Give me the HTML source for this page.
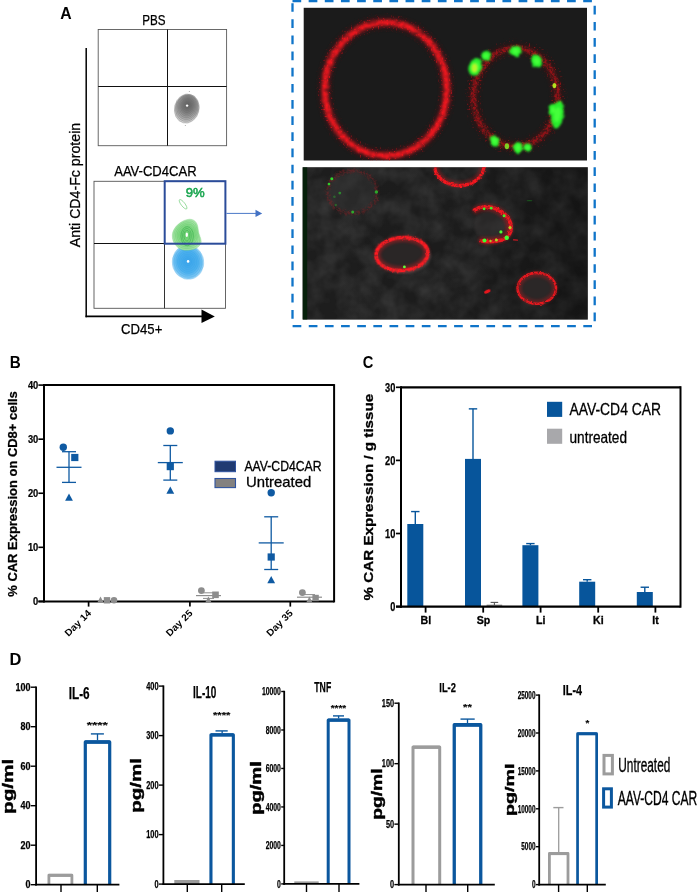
<!DOCTYPE html>
<html lang="en"><head><meta charset="utf-8"><title>Figure</title>
<style>
html,body{margin:0;padding:0;background:#fff;}
body{width:697px;height:892px;overflow:hidden;}
svg{display:block;font-family:'Liberation Sans', sans-serif;}
</style></head><body>
<svg width="697" height="892" viewBox="0 0 697 892">
<defs>
<filter id="fz" x="-20%" y="-20%" width="140%" height="140%">
 <feTurbulence type="fractalNoise" baseFrequency="0.9" numOctaves="2" seed="3" result="n"/>
 <feDisplacementMap in="SourceGraphic" in2="n" scale="3" xChannelSelector="R" yChannelSelector="G" result="d"/>
 <feGaussianBlur in="d" stdDeviation="0.9"/>
</filter>
<filter id="fz2" x="-20%" y="-20%" width="140%" height="140%">
 <feTurbulence type="fractalNoise" baseFrequency="0.8" numOctaves="2" seed="11" result="n"/>
 <feDisplacementMap in="SourceGraphic" in2="n" scale="2" xChannelSelector="R" yChannelSelector="G" result="d"/>
 <feGaussianBlur in="d" stdDeviation="0.7"/>
</filter>
<filter id="grain" x="-20%" y="-20%" width="140%" height="140%" color-interpolation-filters="sRGB">
 <feGaussianBlur in="SourceGraphic" stdDeviation="1.0" result="b"/>
 <feTurbulence type="fractalNoise" baseFrequency="0.28" numOctaves="2" seed="4" result="n"/>
 <feDisplacementMap in="b" in2="n" scale="4" xChannelSelector="R" yChannelSelector="G" result="d"/>
 <feColorMatrix in="n" type="matrix" values="0 0 0 0 0  0 0 0 0 0  0 0 0 0 0  0 0 0 2.2 -0.2" result="na"/>
 <feComposite in="d" in2="na" operator="in" result="sp"/>
 <feGaussianBlur in="sp" stdDeviation="0.8"/>
</filter>
<filter id="grain2" x="-20%" y="-20%" width="140%" height="140%" color-interpolation-filters="sRGB">
 <feGaussianBlur in="SourceGraphic" stdDeviation="0.9" result="b"/>
 <feTurbulence type="fractalNoise" baseFrequency="0.4" numOctaves="2" seed="9" result="n"/>
 <feDisplacementMap in="b" in2="n" scale="5" xChannelSelector="R" yChannelSelector="G" result="d"/>
 <feColorMatrix in="n" type="matrix" values="0 0 0 0 0  0 0 0 0 0  0 0 0 0 0  0 0 0 3.4 -1.0" result="na"/>
 <feComposite in="d" in2="na" operator="in" result="sp"/>
 <feGaussianBlur in="sp" stdDeviation="0.7"/>
</filter>
<filter id="gb1" x="-30%" y="-30%" width="160%" height="160%" color-interpolation-filters="sRGB">
 <feTurbulence type="fractalNoise" baseFrequency="0.25" numOctaves="2" seed="2" result="n"/>
 <feDisplacementMap in="SourceGraphic" in2="n" scale="3" xChannelSelector="R" yChannelSelector="G" result="d"/>
 <feGaussianBlur in="d" stdDeviation="1.0"/>
</filter>
<filter id="grain3" x="-20%" y="-20%" width="140%" height="140%" color-interpolation-filters="sRGB">
 <feGaussianBlur in="SourceGraphic" stdDeviation="0.6" result="b"/>
 <feTurbulence type="fractalNoise" baseFrequency="0.45" numOctaves="2" seed="21" result="n"/>
 <feDisplacementMap in="b" in2="n" scale="2.5" xChannelSelector="R" yChannelSelector="G" result="d"/>
 <feColorMatrix in="n" type="matrix" values="0 0 0 0 0  0 0 0 0 0  0 0 0 0 0  0 0 0 2.0 -0.1" result="na"/>
 <feComposite in="d" in2="na" operator="in" result="sp"/>
 <feGaussianBlur in="sp" stdDeviation="0.75"/>
</filter>
<filter id="b4" x="-30%" y="-30%" width="160%" height="160%"><feGaussianBlur stdDeviation="1.6"/></filter>
<filter id="speck" x="-20%" y="-20%" width="140%" height="140%" color-interpolation-filters="sRGB">
 <feGaussianBlur in="SourceGraphic" stdDeviation="2.2" result="b"/>
 <feTurbulence type="fractalNoise" baseFrequency="0.55" numOctaves="1" seed="17" result="n"/>
 <feColorMatrix in="n" type="matrix" values="0 0 0 0 0  0 0 0 0 0  0 0 0 0 0  7 0 0 0 -4.2" result="na"/>
 <feComposite in="b" in2="na" operator="in" result="sp"/>
 <feGaussianBlur in="sp" stdDeviation="0.55"/>
</filter>
<filter id="b1" x="-30%" y="-30%" width="160%" height="160%"><feGaussianBlur stdDeviation="0.8"/></filter>
<filter id="b2" x="-30%" y="-30%" width="160%" height="160%"><feGaussianBlur stdDeviation="2.5"/></filter>
<filter id="b3" x="-30%" y="-30%" width="160%" height="160%"><feGaussianBlur stdDeviation="0.5"/></filter>
<filter id="dic" x="0" y="0" width="100%" height="100%">
 <feTurbulence type="fractalNoise" baseFrequency="0.05" numOctaves="3" seed="5" result="t"/>
 <feColorMatrix in="t" type="matrix" values="0 0 0 0 0.24  0 0 0 0 0.24  0 0 0 0 0.24  0.8 0 0 0 -0.22"/>
</filter>
<clipPath id="c1"><rect x="303.7" y="7.8" width="283.3" height="152.7"/></clipPath>
<clipPath id="c2"><rect x="302.6" y="167.2" width="285.2" height="152.4"/></clipPath>
<radialGradient id="gg" cx="0.5" cy="0.38" r="0.62"><stop offset="0" stop-color="#5e5e5e"/><stop offset="0.4" stop-color="#7c7c7c"/><stop offset="0.75" stop-color="#a8a8a8"/><stop offset="1" stop-color="#d6d6d6"/></radialGradient>
<radialGradient id="gb" cx="0.5" cy="0.48" r="0.55"><stop offset="0" stop-color="#3aa4ea"/><stop offset="0.6" stop-color="#4eb1ee"/><stop offset="0.9" stop-color="#86caf3"/><stop offset="1" stop-color="#b5def7"/></radialGradient>
<radialGradient id="ggr" cx="0.5" cy="0.5" r="0.55"><stop offset="0" stop-color="#5ccb62"/><stop offset="0.6" stop-color="#83d985"/><stop offset="1" stop-color="#b4e8b4"/></radialGradient>
<linearGradient id="lgd" x1="0" x2="1" y1="0" y2="0"><stop offset="0" stop-color="#000" stop-opacity="0"/><stop offset="0.55" stop-color="#000" stop-opacity="0.05"/><stop offset="1" stop-color="#000" stop-opacity="0.32"/></linearGradient>
</defs>
<text x="60.3" y="19.4" font-size="16.5" font-weight="bold" textLength="11.4" lengthAdjust="spacingAndGlyphs" >A</text>
<text x="142.2" y="25.2" font-size="14" textLength="23.3" lengthAdjust="spacingAndGlyphs" stroke="#000" stroke-width="0.25">PBS</text>
<rect x="98.2" y="29.5" width="128.4" height="116.2" fill="none" stroke="#5a5a5a" stroke-width="0.9" />
<line x1="167.5" y1="29.5" x2="167.5" y2="145.7" stroke="#111" stroke-width="1" />
<line x1="98.2" y1="86.5" x2="226.6" y2="86.5" stroke="#111" stroke-width="1" />
<g transform="rotate(14 186.8 108.5)">
<ellipse cx="186.8" cy="108.6" rx="12.2" ry="14.6" fill="url(#gg)" filter="url(#b3)"/>
<g fill="none" stroke="#666" stroke-width="0.4" opacity="0.7">
<ellipse cx="186.8" cy="108.60" rx="12.20" ry="14.60"/>
<ellipse cx="186.8" cy="108.28" rx="10.98" ry="13.14"/>
<ellipse cx="186.8" cy="107.96" rx="9.76" ry="11.68"/>
<ellipse cx="186.8" cy="107.64" rx="8.54" ry="10.22"/>
<ellipse cx="186.8" cy="107.32" rx="7.32" ry="8.76"/>
<ellipse cx="186.8" cy="107.00" rx="6.10" ry="7.30"/>
<ellipse cx="186.8" cy="106.68" rx="4.88" ry="5.84"/>
<ellipse cx="186.8" cy="106.36" rx="3.66" ry="4.38"/>
<ellipse cx="186.8" cy="106.04" rx="2.44" ry="2.92"/>
</g></g>
<circle cx="187.1" cy="105.6" r="1.2" fill="#fff" filter="url(#b3)"/>
<circle cx="189.3" cy="91.5" r="0.5" fill="#999"/><circle cx="185.3" cy="125.5" r="0.5" fill="#999"/>
<line x1="86.2" y1="48" x2="86.2" y2="317.3" stroke="#000" stroke-width="1.5" />
<line x1="85.5" y1="316.4" x2="203" y2="316.4" stroke="#000" stroke-width="1.6" />
<path d="M201.5 309.6 L214.8 316.4 L201.5 323.0 Z" fill="#000"/>
<text x="80.2" y="247.2" font-size="14" textLength="124.4" lengthAdjust="spacingAndGlyphs" transform="rotate(-90 80.2 247.2)" stroke="#000" stroke-width="0.25">Anti CD4-Fc protein</text>
<text x="121.1" y="334.0" font-size="14.6" textLength="41.2" lengthAdjust="spacingAndGlyphs" stroke="#000" stroke-width="0.25">CD45+</text>
<text x="114.2" y="176.4" font-size="14" textLength="82.4" lengthAdjust="spacingAndGlyphs" stroke="#000" stroke-width="0.25">AAV-CD4CAR</text>
<rect x="94" y="181.3" width="131.5" height="127" fill="none" stroke="#555" stroke-width="0.9" />
<line x1="164.5" y1="181.3" x2="164.5" y2="308.3" stroke="#333" stroke-width="1" />
<line x1="94" y1="243.5" x2="225.5" y2="243.5" stroke="#111" stroke-width="1" />
<ellipse cx="188" cy="262.3" rx="15.6" ry="17" fill="url(#gb)" filter="url(#b3)" transform="rotate(-8 188 262.3)"/>
<g fill="none" stroke="#2f9fe6" stroke-width="0.4" opacity="0.6" transform="rotate(-8 188 262.3)">
<ellipse cx="188" cy="262.30" rx="15.60" ry="17.00"/>
<ellipse cx="188" cy="262.21" rx="13.88" ry="15.13"/>
<ellipse cx="188" cy="262.12" rx="12.17" ry="13.26"/>
<ellipse cx="188" cy="262.04" rx="10.45" ry="11.39"/>
<ellipse cx="188" cy="261.95" rx="8.74" ry="9.52"/>
<ellipse cx="188" cy="261.86" rx="7.02" ry="7.65"/>
<ellipse cx="188" cy="261.77" rx="5.30" ry="5.78"/>
<ellipse cx="188" cy="261.68" rx="3.59" ry="3.91"/>
</g>
<circle cx="188.1" cy="261.4" r="1.3" fill="#fff" filter="url(#b3)"/>
<path d="M172.30 235.00 C172.80 227.00 181.80 219.50 189.80 219.20 C195.80 219.50 197.80 224.00 198.30 230.00 C198.80 235.00 201.30 238.00 201.20 242.00 C199.80 249.00 190.80 250.50 184.80 250.30 C177.80 249.50 171.80 243.00 172.30 235.00 Z" fill="url(#ggr)" filter="url(#b3)" opacity="0.95"/>
<g fill="none" stroke="#55c45c" stroke-width="0.4" opacity="0.7">
<path d="M172.30 235.00 C172.80 227.00 181.80 219.50 189.80 219.20 C195.80 219.50 197.80 224.00 198.30 230.00 C198.80 235.00 201.30 238.00 201.20 242.00 C199.80 249.00 190.80 250.50 184.80 250.30 C177.80 249.50 171.80 243.00 172.30 235.00 Z"/>
<path d="M173.90 234.95 C174.34 227.83 182.35 221.15 189.47 220.88 C194.81 221.15 196.59 225.16 197.04 230.50 C197.48 234.95 199.71 237.62 199.62 241.18 C198.37 247.41 190.36 248.74 185.02 248.56 C178.79 247.85 173.45 242.06 173.90 234.95 Z"/>
<path d="M175.49 234.89 C175.88 228.65 182.90 222.80 189.14 222.57 C193.82 222.80 195.38 226.31 195.77 230.99 C196.16 234.89 198.11 237.23 198.03 240.35 C196.94 245.81 189.92 246.98 185.24 246.82 C179.78 246.20 175.10 241.13 175.49 234.89 Z"/>
<path d="M177.09 234.84 C177.42 229.47 183.45 224.45 188.81 224.25 C192.83 224.45 194.17 227.47 194.51 231.48 C194.84 234.84 196.52 236.84 196.45 239.53 C195.51 244.22 189.48 245.22 185.46 245.09 C180.77 244.55 176.75 240.19 177.09 234.84 Z"/>
<path d="M178.68 234.78 C178.96 230.30 184.00 226.10 188.48 225.93 C191.84 226.10 192.96 228.62 193.24 231.98 C193.52 234.78 194.92 236.46 194.86 238.70 C194.08 242.62 189.04 243.46 185.68 243.35 C181.76 242.90 178.40 239.26 178.68 234.78 Z"/>
<path d="M180.28 234.73 C180.50 231.12 184.55 227.75 188.15 227.62 C190.85 227.75 191.75 229.78 191.98 232.48 C192.20 234.73 193.33 236.08 193.28 237.88 C192.65 241.03 188.60 241.70 185.90 241.61 C182.75 241.25 180.05 238.33 180.28 234.73 Z"/>
</g>
<g fill="none" stroke="#34a84a" stroke-width="0.6" opacity="0.85"><ellipse cx="186.9" cy="236" rx="4.4" ry="7.6"/><ellipse cx="186.9" cy="235.6" rx="2.9" ry="5.4"/><ellipse cx="187.2" cy="236.2" rx="6.2" ry="9.6"/></g>
<ellipse cx="186.8" cy="234.8" rx="1.2" ry="2.2" fill="#fff" filter="url(#b3)"/>
<ellipse cx="183.1" cy="204.3" rx="1.9" ry="5.8" fill="none" stroke="#63c96c" stroke-width="0.6" transform="rotate(-38 183.1 204.3)"/>
<rect x="164.7" y="181.2" width="60.7" height="62.5" fill="none" stroke="#2b4c9a" stroke-width="2" />
<text x="185.8" y="196.7" font-size="13.4" textLength="19" lengthAdjust="spacingAndGlyphs" fill="#1aa650" stroke="#1aa650" stroke-width="0.55">9%</text>
<line x1="226.4" y1="213.4" x2="257" y2="213.4" stroke="#4a78c8" stroke-width="1" />
<path d="M255.5 209.8 L262.2 213.4 L255.5 217 Z" fill="#4472c4"/>
<rect x="292.5" y="1.1" width="302.2" height="324.95" fill="none" stroke="#0f74c9" stroke-width="2.3" stroke-dasharray="8.7 7.45"/>
<rect x="303.7" y="7.8" width="283.3" height="152.7" fill="#1b1b1b" />
<g clip-path="url(#c1)">
<ellipse cx="385.8" cy="89.2" rx="61" ry="66.6" fill="none" stroke="#a01016" stroke-width="9" opacity="0.45" filter="url(#b2)"/>
<ellipse cx="385.8" cy="89.2" rx="61" ry="66.6" fill="none" stroke="#d8141c" stroke-width="13" opacity="0.8" filter="url(#speck)"/>
<ellipse cx="515.6" cy="97.3" rx="42.5" ry="49.5" fill="none" stroke="#c0141a" stroke-width="13" opacity="0.75" filter="url(#speck)"/>
<ellipse cx="385.8" cy="89.2" rx="61" ry="66.6" fill="none" stroke="#ff1820" stroke-width="5.4" filter="url(#grain)"/>
<ellipse cx="515.6" cy="97.3" rx="42" ry="49" fill="none" stroke="#7a0c10" stroke-width="7" opacity="0.45" filter="url(#b2)"/>
<ellipse cx="515.6" cy="97.3" rx="42" ry="49" fill="none" stroke="#a41218" stroke-width="4.4" opacity="0.85" filter="url(#grain2)"/>
<g fill="#28ec2c" filter="url(#gb1)">
<ellipse cx="475.3" cy="66.8" rx="6.6" ry="9" transform="rotate(20 475.3 66.8)"/>
<ellipse cx="486" cy="55.8" rx="4.8" ry="4.8" transform="rotate(0 486 55.8)"/>
<ellipse cx="515.6" cy="50.9" rx="5.8" ry="5.4" transform="rotate(0 515.6 50.9)"/>
<ellipse cx="536.7" cy="61" rx="5.2" ry="6.8" transform="rotate(-25 536.7 61)"/>
<ellipse cx="557.4" cy="114.6" rx="6.2" ry="14" transform="rotate(8 557.4 114.6)"/>
<ellipse cx="553" cy="110" rx="4" ry="6" transform="rotate(0 553 110)"/>
<ellipse cx="494.7" cy="140.8" rx="4.9" ry="5.8" transform="rotate(-15 494.7 140.8)"/>
<ellipse cx="518" cy="147.6" rx="4.4" ry="5.6" transform="rotate(0 518 147.6)"/>
<ellipse cx="527.6" cy="147.6" rx="4" ry="4" transform="rotate(0 527.6 147.6)"/>
</g>
<g fill="#45ff3a" filter="url(#b1)">
<ellipse cx="475.3" cy="66.8" rx="3.6" ry="5.0" transform="rotate(20 475.3 66.8)"/>
<ellipse cx="486" cy="55.8" rx="2.6" ry="2.6" transform="rotate(0 486 55.8)"/>
<ellipse cx="515.6" cy="50.9" rx="3.2" ry="3.0" transform="rotate(0 515.6 50.9)"/>
<ellipse cx="536.7" cy="61" rx="2.9" ry="3.7" transform="rotate(-25 536.7 61)"/>
<ellipse cx="557.4" cy="114.6" rx="3.4" ry="7.7" transform="rotate(8 557.4 114.6)"/>
<ellipse cx="553" cy="110" rx="2.2" ry="3.3" transform="rotate(0 553 110)"/>
<ellipse cx="494.7" cy="140.8" rx="2.7" ry="3.2" transform="rotate(-15 494.7 140.8)"/>
<ellipse cx="518" cy="147.6" rx="2.4" ry="3.1" transform="rotate(0 518 147.6)"/>
<ellipse cx="527.6" cy="147.6" rx="2.2" ry="2.2" transform="rotate(0 527.6 147.6)"/>
</g>
<ellipse cx="474.5" cy="68" rx="3" ry="4.5" fill="#b6f52a" filter="url(#b1)"/>
<ellipse cx="554.4" cy="85.6" rx="2" ry="2.6" fill="#b4e020" filter="url(#b3)"/>
<ellipse cx="506.9" cy="146.2" rx="2.2" ry="3" fill="#7fd020" filter="url(#b3)"/>
</g>
<rect x="302.6" y="167.2" width="285.2" height="152.4" fill="#1d1d1d" />
<g clip-path="url(#c2)">
<rect x="302.6" y="167.2" width="285" height="152.6" fill="#fff" filter="url(#dic)" opacity="0.5"/>
<rect x="302.6" y="167.2" width="285.2" height="152.4" fill="url(#lgd)" />
<rect x="302.6" y="167.2" width="4.6" height="152.6" fill="#06200a" />
<ellipse cx="352.2" cy="192" rx="24" ry="20.5" fill="#363636" opacity="0.5" filter="url(#b1)"/>
<ellipse cx="352.2" cy="192" rx="25" ry="21.3" fill="none" stroke="#7c2226" stroke-width="2.4" opacity="0.8" filter="url(#grain2)"/>
<g fill="#2be02e" filter="url(#b3)">
<circle cx="331.8" cy="178.7" r="1.5" opacity="0.95"/>
<circle cx="329" cy="184.1" r="1.3" opacity="0.9"/>
<circle cx="339.8" cy="193.1" r="1.4" opacity="0.5"/>
<circle cx="334.4" cy="196.8" r="1.3" opacity="0.3"/>
<circle cx="376.4" cy="192" r="1.7" opacity="0.7"/>
<circle cx="352.7" cy="212" r="1.5" opacity="0.7"/>
<circle cx="335.8" cy="205" r="1.2" opacity="0.3"/>
</g>
<ellipse cx="459.3" cy="166" rx="23.400000000000002" ry="18.400000000000002" fill="none" stroke="#f4161e" stroke-width="5.9" opacity="0.3" filter="url(#b4)"/>
<ellipse cx="459.3" cy="166" rx="24.6" ry="19.6" fill="none" stroke="#f4161e" stroke-width="3.4" filter="url(#grain3)"/>
<ellipse cx="404" cy="256" rx="27" ry="17.5" fill="#555" opacity="0.5" filter="url(#b1)"/>
<ellipse cx="402" cy="254" rx="25" ry="15.6" fill="#2a2626"/>
<ellipse cx="402" cy="254" rx="24.8" ry="15.3" fill="none" stroke="#ff1a22" stroke-width="6.1" opacity="0.35" filter="url(#b4)" transform="rotate(-4 402 254)"/>
<ellipse cx="402" cy="254" rx="26" ry="16.5" fill="none" stroke="#ff1a22" stroke-width="3.6" filter="url(#grain3)" transform="rotate(-4 402 254)"/>
<circle cx="404.4" cy="266.9" r="1.4" fill="#5cff3a" filter="url(#b3)"/>
<ellipse cx="490" cy="225" rx="16" ry="15" fill="#383434" opacity="0.5" filter="url(#b1)"/>
<path d="M476 210 C481 207 488 206.5 494 208.5 C502 211.5 508.5 218 509.5 226 C510 232 507 237 501 239 C495 241 488 241.4 482 240.6" fill="none" stroke="#c0161c" stroke-width="7" stroke-linecap="round" opacity="0.5" filter="url(#b4)"/>
<path d="M474.5 210 C480 206.5 488 206 494 208 C503 211 510 218 511 226 C511.5 233 508 238 502 240 C495 242 487 242 481 241" fill="none" stroke="#ee1820" stroke-width="3.8" stroke-linecap="round" filter="url(#grain3)"/>
<path d="M513 239.6 L518 240.2" stroke="#a01820" stroke-width="1.6" filter="url(#b3)"/>
<g fill="#3df02e" filter="url(#b3)">
<circle cx="484.1" cy="208.8" r="1.4" fill="#3df02e"/>
<circle cx="491.2" cy="208.2" r="1.4" fill="#3df02e"/>
<circle cx="504.1" cy="215.7" r="1.5" fill="#3df02e"/>
<circle cx="510" cy="227.6" r="1.6" fill="#c0c828"/>
<circle cx="500.9" cy="231.9" r="1.6" fill="#4dff30"/>
<circle cx="506.7" cy="237.7" r="2.2" fill="#3dff30"/>
<circle cx="484.5" cy="240.5" r="2" fill="#3dff30"/>
<circle cx="496.4" cy="240" r="1.5" fill="#a8d828"/>
<circle cx="490.5" cy="241" r="1.2" fill="#a8c828"/>
</g>
<ellipse cx="536.8" cy="288.3" rx="18" ry="14.5" fill="#2b2727"/>
<ellipse cx="536.8" cy="288.3" rx="18.0" ry="14.200000000000001" fill="none" stroke="#e8181f" stroke-width="5.1" opacity="0.3" filter="url(#b4)"/>
<ellipse cx="536.8" cy="288.3" rx="19.2" ry="15.4" fill="none" stroke="#e8181f" stroke-width="2.6" filter="url(#grain3)"/>
<ellipse cx="487.3" cy="291.5" rx="3.4" ry="1.7" fill="#e8161e" filter="url(#b3)" transform="rotate(-25 487.3 291.5)"/>
<ellipse cx="529.5" cy="200.7" rx="3" ry="0.6" fill="#1c7a22" opacity="0.6"/>
</g>
<text x="9.7" y="368.2" font-size="16.5" font-weight="bold" textLength="11" lengthAdjust="spacingAndGlyphs" >B</text>
<line x1="44.0" y1="384.1" x2="44.0" y2="602.4" stroke="#000" stroke-width="2" />
<line x1="44.0" y1="385.1" x2="334.1" y2="385.1" stroke="#000" stroke-width="2" />
<line x1="334.1" y1="384.1" x2="334.1" y2="602.4" stroke="#000" stroke-width="2" />
<line x1="38.4" y1="601.4" x2="334.1" y2="601.4" stroke="#000" stroke-width="2" />
<line x1="38.4" y1="601.4" x2="44.0" y2="601.4" stroke="#000" stroke-width="1.6" />
<text x="38.3" y="605.2" font-size="10.4" font-weight="bold" textLength="5.2" lengthAdjust="spacingAndGlyphs" text-anchor="end" stroke="#000" stroke-width="0.2">0</text>
<line x1="38.4" y1="547.325" x2="44.0" y2="547.325" stroke="#000" stroke-width="1.6" />
<text x="38.3" y="551.1" font-size="10.4" font-weight="bold" textLength="10.4" lengthAdjust="spacingAndGlyphs" text-anchor="end" stroke="#000" stroke-width="0.2">10</text>
<line x1="38.4" y1="493.25" x2="44.0" y2="493.25" stroke="#000" stroke-width="1.6" />
<text x="38.3" y="497.1" font-size="10.4" font-weight="bold" textLength="10.4" lengthAdjust="spacingAndGlyphs" text-anchor="end" stroke="#000" stroke-width="0.2">20</text>
<line x1="38.4" y1="439.175" x2="44.0" y2="439.175" stroke="#000" stroke-width="1.6" />
<text x="38.3" y="443.0" font-size="10.4" font-weight="bold" textLength="10.4" lengthAdjust="spacingAndGlyphs" text-anchor="end" stroke="#000" stroke-width="0.2">30</text>
<line x1="38.4" y1="385.1" x2="44.0" y2="385.1" stroke="#000" stroke-width="1.6" />
<text x="38.3" y="388.9" font-size="10.4" font-weight="bold" textLength="10.4" lengthAdjust="spacingAndGlyphs" text-anchor="end" stroke="#000" stroke-width="0.2">40</text>
<line x1="88.6" y1="601.4" x2="88.6" y2="606.6" stroke="#000" stroke-width="1.7" />
<line x1="189.9" y1="601.4" x2="189.9" y2="606.6" stroke="#000" stroke-width="1.7" />
<line x1="290.3" y1="601.4" x2="290.3" y2="606.6" stroke="#000" stroke-width="1.7" />
<text font-size="9.6" font-weight="bold" text-anchor="end" textLength="33" lengthAdjust="spacingAndGlyphs" transform="translate(91.89999999999999 613.6) rotate(-45)">Day 14</text>
<text font-size="9.6" font-weight="bold" text-anchor="end" textLength="33" lengthAdjust="spacingAndGlyphs" transform="translate(193.20000000000002 613.6) rotate(-45)">Day 25</text>
<text font-size="9.6" font-weight="bold" text-anchor="end" textLength="33" lengthAdjust="spacingAndGlyphs" transform="translate(293.6 613.6) rotate(-45)">Day 35</text>
<text x="16.7" y="596.7" font-size="12.8" font-weight="bold" textLength="205.5" lengthAdjust="spacingAndGlyphs" transform="rotate(-90 16.7 596.7)" stroke="#000" stroke-width="0.25">% CAR Expression on CD8+ cells</text>
<line x1="69" y1="451.7" x2="69" y2="482.4" stroke="#0f5aa2" stroke-width="1.3" />
<line x1="56.5" y1="467.3" x2="81.5" y2="467.3" stroke="#0f5aa2" stroke-width="1.3" />
<line x1="62" y1="451.7" x2="76" y2="451.7" stroke="#0f5aa2" stroke-width="1.3" />
<line x1="62" y1="482.4" x2="76" y2="482.4" stroke="#0f5aa2" stroke-width="1.3" />
<circle cx="63.3" cy="447.2" r="3.7" fill="#0f5aa2"/>
<rect x="71.2" y="453.9" width="7.2" height="7.2" fill="#0f5aa2"/>
<path d="M69 493.6 L72.9 500.815 L65.1 500.815 Z" fill="#0f5aa2"/>
<line x1="170.3" y1="445.5" x2="170.3" y2="480.1" stroke="#0f5aa2" stroke-width="1.3" />
<line x1="157.8" y1="462.6" x2="182.8" y2="462.6" stroke="#0f5aa2" stroke-width="1.3" />
<line x1="163.3" y1="445.5" x2="177.3" y2="445.5" stroke="#0f5aa2" stroke-width="1.3" />
<line x1="163.3" y1="480.1" x2="177.3" y2="480.1" stroke="#0f5aa2" stroke-width="1.3" />
<circle cx="170.3" cy="430.9" r="3.7" fill="#0f5aa2"/>
<rect x="166.70000000000002" y="463.0" width="7.2" height="7.2" fill="#0f5aa2"/>
<path d="M170.3 486.6 L174.20000000000002 493.815 L166.4 493.815 Z" fill="#0f5aa2"/>
<line x1="271.2" y1="516.8" x2="271.2" y2="569.5" stroke="#0f5aa2" stroke-width="1.3" />
<line x1="258.7" y1="542.9" x2="283.7" y2="542.9" stroke="#0f5aa2" stroke-width="1.3" />
<line x1="264.2" y1="516.8" x2="278.2" y2="516.8" stroke="#0f5aa2" stroke-width="1.3" />
<line x1="264.2" y1="569.5" x2="278.2" y2="569.5" stroke="#0f5aa2" stroke-width="1.3" />
<circle cx="271.2" cy="492.7" r="3.7" fill="#0f5aa2"/>
<rect x="267.59999999999997" y="553.4" width="7.2" height="7.2" fill="#0f5aa2"/>
<path d="M271.2 576.1 L275.09999999999997 583.315 L267.3 583.315 Z" fill="#0f5aa2"/>
<path d="M100.5 596.6 L103.9 602.89 L97.1 602.89 Z" fill="#8d8d8d"/>
<rect x="103.8" y="597.0999999999999" width="6.4" height="6.4" fill="#8d8d8d"/>
<circle cx="114" cy="600.3" r="3.3" fill="#8d8d8d"/>
<line x1="196" y1="595.6" x2="221" y2="595.6" stroke="#8d8d8d" stroke-width="1.2" />
<line x1="203" y1="592.8" x2="214" y2="592.8" stroke="#8d8d8d" stroke-width="1" />
<line x1="203" y1="598.4" x2="214" y2="598.4" stroke="#8d8d8d" stroke-width="1" />
<circle cx="201.4" cy="590.6" r="3.4" fill="#8d8d8d"/>
<rect x="212.2" y="591.5" width="6.6" height="6.6" fill="#8d8d8d"/>
<path d="M208.4 596.6 L211.8 602.89 L205.0 602.89 Z" fill="#8d8d8d"/>
<line x1="297" y1="597.2" x2="322" y2="597.2" stroke="#8d8d8d" stroke-width="1.2" />
<line x1="304" y1="594.6" x2="315" y2="594.6" stroke="#8d8d8d" stroke-width="1" />
<circle cx="302.4" cy="592.6" r="3.4" fill="#8d8d8d"/>
<path d="M309.4 596.6 L312.79999999999995 602.89 L306.0 602.89 Z" fill="#8d8d8d"/>
<rect x="312.40000000000003" y="594.8" width="6.4" height="6.4" fill="#8d8d8d"/>
<rect x="215" y="461.2" width="20.5" height="10.5" fill="#203b72" stroke="#2f539f" stroke-width="1" />
<rect x="215" y="478.5" width="20.5" height="9.1" fill="#838180" stroke="#2f539f" stroke-width="1.1" />
<text x="244.4" y="470.8" font-size="14.2" textLength="77.2" lengthAdjust="spacingAndGlyphs" stroke="#000" stroke-width="0.3">AAV-CD4CAR</text>
<text x="246" y="487.4" font-size="14.8" textLength="65.2" lengthAdjust="spacingAndGlyphs" stroke="#000" stroke-width="0.3">Untreated</text>
<text x="362.7" y="368.2" font-size="16.5" font-weight="bold" textLength="10.6" lengthAdjust="spacingAndGlyphs" >C</text>
<line x1="415.3" y1="511.57000000000005" x2="415.3" y2="523.9970000000001" stroke="#07559b" stroke-width="1.4" />
<line x1="411.1" y1="511.57000000000005" x2="419.5" y2="511.57000000000005" stroke="#07559b" stroke-width="1.4" />
<rect x="407.3" y="524.0" width="16" height="82.6" fill="#07559b" />
<line x1="473" y1="408.8645" x2="473" y2="458.93800000000005" stroke="#07559b" stroke-width="1.4" />
<line x1="468.8" y1="408.8645" x2="477.2" y2="408.8645" stroke="#07559b" stroke-width="1.4" />
<rect x="465" y="458.9" width="16" height="147.7" fill="#07559b" />
<line x1="530.4" y1="543.5878" x2="530.4" y2="545.196" stroke="#07559b" stroke-width="1.4" />
<line x1="526.1999999999999" y1="543.5878" x2="534.6" y2="543.5878" stroke="#07559b" stroke-width="1.4" />
<rect x="522.4" y="545.2" width="16" height="61.4" fill="#07559b" />
<line x1="587.2" y1="579.6992" x2="587.2" y2="581.746" stroke="#07559b" stroke-width="1.4" />
<line x1="583.0" y1="579.6992" x2="591.4000000000001" y2="579.6992" stroke="#07559b" stroke-width="1.4" />
<rect x="579.2" y="581.7" width="16" height="24.9" fill="#07559b" />
<line x1="644.8" y1="587.2285" x2="644.8" y2="591.98" stroke="#07559b" stroke-width="1.4" />
<line x1="640.5999999999999" y1="587.2285" x2="649.0" y2="587.2285" stroke="#07559b" stroke-width="1.4" />
<rect x="636.8" y="592.0" width="16" height="14.6" fill="#07559b" />
<rect x="486.6" y="604.6" width="15.6" height="1.6" fill="#9a9a9a" />
<line x1="494.4" y1="602.4" x2="494.4" y2="605" stroke="#555" stroke-width="1.1" />
<line x1="490.6" y1="602.4" x2="498.2" y2="602.4" stroke="#555" stroke-width="1.1" />
<line x1="401" y1="386.2" x2="401" y2="607.7" stroke="#000" stroke-width="2" />
<line x1="401" y1="387.3" x2="680.5" y2="387.3" stroke="#000" stroke-width="2.2" />
<line x1="680.5" y1="386.2" x2="680.5" y2="607.7" stroke="#000" stroke-width="2" />
<line x1="396" y1="606.6" x2="680.5" y2="606.6" stroke="#000" stroke-width="2.2" />
<line x1="396" y1="606.6" x2="401" y2="606.6" stroke="#000" stroke-width="1.7" />
<text x="395.4" y="610.9" font-size="12.2" font-weight="bold" textLength="5.1" lengthAdjust="spacingAndGlyphs" text-anchor="end" stroke="#000" stroke-width="0.25">0</text>
<line x1="396" y1="533.5" x2="401" y2="533.5" stroke="#000" stroke-width="1.7" />
<text x="395.4" y="537.8" font-size="12.2" font-weight="bold" textLength="10.3" lengthAdjust="spacingAndGlyphs" text-anchor="end" stroke="#000" stroke-width="0.25">10</text>
<line x1="396" y1="460.40000000000003" x2="401" y2="460.40000000000003" stroke="#000" stroke-width="1.7" />
<text x="395.4" y="464.7" font-size="12.2" font-weight="bold" textLength="10.3" lengthAdjust="spacingAndGlyphs" text-anchor="end" stroke="#000" stroke-width="0.25">20</text>
<line x1="396" y1="387.3" x2="401" y2="387.3" stroke="#000" stroke-width="1.7" />
<text x="395.4" y="391.6" font-size="12.2" font-weight="bold" textLength="10.3" lengthAdjust="spacingAndGlyphs" text-anchor="end" stroke="#000" stroke-width="0.25">30</text>
<line x1="425.6" y1="606.6" x2="425.6" y2="612.6" stroke="#000" stroke-width="1.8" />
<text x="425.8" y="623.9" font-size="10.6" font-weight="bold" text-anchor="middle" stroke="#000" stroke-width="0.3">Bl</text>
<line x1="483.2" y1="606.6" x2="483.2" y2="612.6" stroke="#000" stroke-width="1.8" />
<text x="483.4" y="623.9" font-size="10.6" font-weight="bold" text-anchor="middle" stroke="#000" stroke-width="0.3">Sp</text>
<line x1="540.6" y1="606.6" x2="540.6" y2="612.6" stroke="#000" stroke-width="1.8" />
<text x="540.8000000000001" y="623.9" font-size="10.6" font-weight="bold" text-anchor="middle" stroke="#000" stroke-width="0.3">Li</text>
<line x1="598.2" y1="606.6" x2="598.2" y2="612.6" stroke="#000" stroke-width="1.8" />
<text x="598.4000000000001" y="623.9" font-size="10.6" font-weight="bold" text-anchor="middle" stroke="#000" stroke-width="0.3">Ki</text>
<line x1="655.4" y1="606.6" x2="655.4" y2="612.6" stroke="#000" stroke-width="1.8" />
<text x="655.6" y="623.9" font-size="10.6" font-weight="bold" text-anchor="middle" stroke="#000" stroke-width="0.3">It</text>
<text x="373.4" y="600.4" font-size="13" font-weight="bold" textLength="206.6" lengthAdjust="spacingAndGlyphs" transform="rotate(-90 373.4 600.4)" stroke="#000" stroke-width="0.3">% CAR Expression / g tissue</text>
<rect x="547" y="401.8" width="15.2" height="15.1" fill="#07559b" />
<rect x="547" y="428.7" width="15.2" height="15.1" fill="#a8a8ab" />
<text x="569.5" y="414.9" font-size="16.5" textLength="91.5" lengthAdjust="spacingAndGlyphs" stroke="#000" stroke-width="0.3">AAV-CD4 CAR</text>
<text x="569.5" y="442.6" font-size="16.5" textLength="57.5" lengthAdjust="spacingAndGlyphs" stroke="#000" stroke-width="0.3">untreated</text>
<text x="9.4" y="665" font-size="16.5" font-weight="bold" textLength="11.9" lengthAdjust="spacingAndGlyphs" >D</text>
<text x="13.0" y="814" font-size="14.5" font-weight="bold" textLength="55.2" lengthAdjust="spacingAndGlyphs" transform="rotate(-90 13.0 814)" stroke="#000" stroke-width="0.4">pg/ml</text>
<path d="M48.90 884.7 V875.20 H71.90 V884.7" fill="#fff" stroke="#9c9c9c" stroke-width="2.8" stroke-linejoin="round"/>
<line x1="48.9" y1="875.4" x2="71.89999999999999" y2="875.4" stroke="#9c9c9c" stroke-width="3.0" />
<line x1="97.5" y1="733.9" x2="97.5" y2="740.3" stroke="#0b579e" stroke-width="1.3" />
<line x1="90.9" y1="733.9" x2="103.9" y2="733.9" stroke="#0b579e" stroke-width="1.4" />
<path d="M85.30 884.7 V741.90 H109.70 V884.7" fill="#fff" stroke="#0b579e" stroke-width="3.2" stroke-linejoin="round"/>
<line x1="85.3" y1="742.1" x2="109.7" y2="742.1" stroke="#0b579e" stroke-width="3.4000000000000004" />
<line x1="36.1" y1="686.5" x2="36.1" y2="885.6" stroke="#000" stroke-width="1.8" />
<line x1="35.2" y1="884.7" x2="119.4" y2="884.7" stroke="#000" stroke-width="1.8" />
<line x1="30.700000000000003" y1="884.7" x2="36.1" y2="884.7" stroke="#000" stroke-width="1.4" />
<text x="30.4" y="888.4" font-size="10.4" font-weight="bold" textLength="5.0" lengthAdjust="spacingAndGlyphs" text-anchor="end" stroke="#000" stroke-width="0.25">0</text>
<line x1="30.700000000000003" y1="845.2" x2="36.1" y2="845.2" stroke="#000" stroke-width="1.4" />
<text x="30.4" y="848.9" font-size="10.4" font-weight="bold" textLength="10.0" lengthAdjust="spacingAndGlyphs" text-anchor="end" stroke="#000" stroke-width="0.25">20</text>
<line x1="30.700000000000003" y1="805.7" x2="36.1" y2="805.7" stroke="#000" stroke-width="1.4" />
<text x="30.4" y="809.4" font-size="10.4" font-weight="bold" textLength="10.0" lengthAdjust="spacingAndGlyphs" text-anchor="end" stroke="#000" stroke-width="0.25">40</text>
<line x1="30.700000000000003" y1="766.2" x2="36.1" y2="766.2" stroke="#000" stroke-width="1.4" />
<text x="30.4" y="769.9" font-size="10.4" font-weight="bold" textLength="10.0" lengthAdjust="spacingAndGlyphs" text-anchor="end" stroke="#000" stroke-width="0.25">60</text>
<line x1="30.700000000000003" y1="726.7" x2="36.1" y2="726.7" stroke="#000" stroke-width="1.4" />
<text x="30.4" y="730.4" font-size="10.4" font-weight="bold" textLength="10.0" lengthAdjust="spacingAndGlyphs" text-anchor="end" stroke="#000" stroke-width="0.25">80</text>
<line x1="30.700000000000003" y1="687.2" x2="36.1" y2="687.2" stroke="#000" stroke-width="1.4" />
<text x="30.4" y="690.9" font-size="10.4" font-weight="bold" textLength="15.0" lengthAdjust="spacingAndGlyphs" text-anchor="end" stroke="#000" stroke-width="0.25">100</text>
<line x1="61" y1="884.7" x2="61" y2="892" stroke="#000" stroke-width="1.4" />
<line x1="97.3" y1="884.7" x2="97.3" y2="892" stroke="#000" stroke-width="1.4" />
<text x="68.7" y="698.9" font-size="15.6" font-weight="bold" textLength="20.9" lengthAdjust="spacingAndGlyphs" stroke="#000" stroke-width="0.25">IL-6</text>
<text x="97.3" y="727.9" font-size="9.5" font-weight="bold" textLength="21.2" lengthAdjust="spacingAndGlyphs" text-anchor="middle" stroke="#000" stroke-width="0.15">****</text>
<text x="141.4" y="812.8" font-size="14.5" font-weight="bold" textLength="54.8" lengthAdjust="spacingAndGlyphs" transform="rotate(-90 141.4 812.8)" stroke="#000" stroke-width="0.4">pg/ml</text>
<rect x="174.3" y="880" width="25.2" height="4.1" fill="#9c9c9c" />
<line x1="222.15" y1="730.9" x2="222.15" y2="733.2" stroke="#0b579e" stroke-width="1.3" />
<line x1="215.5" y1="730.9" x2="227.7" y2="730.9" stroke="#0b579e" stroke-width="1.4" />
<path d="M210.95 884.1 V734.75 H233.35 V884.1" fill="#fff" stroke="#0b579e" stroke-width="3.1" stroke-linejoin="round"/>
<line x1="210.95000000000002" y1="734.95" x2="233.35" y2="734.95" stroke="#0b579e" stroke-width="3.3000000000000003" />
<line x1="163.4" y1="685.4" x2="163.4" y2="885.0" stroke="#000" stroke-width="1.8" />
<line x1="162.5" y1="884.1" x2="244.8" y2="884.1" stroke="#000" stroke-width="1.8" />
<line x1="158.8" y1="884.1" x2="163.4" y2="884.1" stroke="#000" stroke-width="1.4" />
<text x="158.5" y="887.8" font-size="10.4" font-weight="bold" textLength="4.1" lengthAdjust="spacingAndGlyphs" text-anchor="end" stroke="#000" stroke-width="0.25">0</text>
<line x1="158.8" y1="834.6" x2="163.4" y2="834.6" stroke="#000" stroke-width="1.4" />
<text x="158.5" y="838.3" font-size="10.4" font-weight="bold" textLength="12.3" lengthAdjust="spacingAndGlyphs" text-anchor="end" stroke="#000" stroke-width="0.25">100</text>
<line x1="158.8" y1="785.1" x2="163.4" y2="785.1" stroke="#000" stroke-width="1.4" />
<text x="158.5" y="788.8" font-size="10.4" font-weight="bold" textLength="12.3" lengthAdjust="spacingAndGlyphs" text-anchor="end" stroke="#000" stroke-width="0.25">200</text>
<line x1="158.8" y1="735.6" x2="163.4" y2="735.6" stroke="#000" stroke-width="1.4" />
<text x="158.5" y="739.3" font-size="10.4" font-weight="bold" textLength="12.3" lengthAdjust="spacingAndGlyphs" text-anchor="end" stroke="#000" stroke-width="0.25">300</text>
<line x1="158.8" y1="686.1" x2="163.4" y2="686.1" stroke="#000" stroke-width="1.4" />
<text x="158.5" y="689.8" font-size="10.4" font-weight="bold" textLength="12.3" lengthAdjust="spacingAndGlyphs" text-anchor="end" stroke="#000" stroke-width="0.25">400</text>
<line x1="187.3" y1="884.1" x2="187.3" y2="892" stroke="#000" stroke-width="1.4" />
<line x1="221.7" y1="884.1" x2="221.7" y2="892" stroke="#000" stroke-width="1.4" />
<text x="193.1" y="697.6" font-size="15.6" font-weight="bold" textLength="23.3" lengthAdjust="spacingAndGlyphs" stroke="#000" stroke-width="0.25">IL-10</text>
<text x="221.7" y="718.3" font-size="9.5" font-weight="bold" textLength="17.4" lengthAdjust="spacingAndGlyphs" text-anchor="middle" stroke="#000" stroke-width="0.15">****</text>
<text x="260.9" y="814.7" font-size="13.8" font-weight="bold" textLength="53.5" lengthAdjust="spacingAndGlyphs" transform="rotate(-90 260.9 814.7)" stroke="#000" stroke-width="0.4">pg/ml</text>
<rect x="294.3" y="881.4" width="24.4" height="2.5" fill="#9c9c9c" />
<line x1="338.6" y1="715.9" x2="338.6" y2="718.5" stroke="#0b579e" stroke-width="1.3" />
<line x1="333" y1="715.9" x2="344" y2="715.9" stroke="#0b579e" stroke-width="1.4" />
<path d="M328.20 883.9 V720.00 H349.00 V883.9" fill="#fff" stroke="#0b579e" stroke-width="3.0" stroke-linejoin="round"/>
<line x1="328.2" y1="720.2" x2="349.0" y2="720.2" stroke="#0b579e" stroke-width="3.2" />
<line x1="284.2" y1="690.8" x2="284.2" y2="884.8" stroke="#000" stroke-width="1.8" />
<line x1="283.3" y1="883.9" x2="359.4" y2="883.9" stroke="#000" stroke-width="1.8" />
<line x1="281.2" y1="883.9" x2="284.2" y2="883.9" stroke="#000" stroke-width="1.4" />
<text x="280.9" y="887.6" font-size="10.3" font-weight="bold" textLength="3.8" lengthAdjust="spacingAndGlyphs" text-anchor="end" stroke="#000" stroke-width="0.25">0</text>
<line x1="281.2" y1="845.42" x2="284.2" y2="845.42" stroke="#000" stroke-width="1.4" />
<text x="280.9" y="849.1" font-size="10.3" font-weight="bold" textLength="15.2" lengthAdjust="spacingAndGlyphs" text-anchor="end" stroke="#000" stroke-width="0.25">2000</text>
<line x1="281.2" y1="806.9399999999999" x2="284.2" y2="806.9399999999999" stroke="#000" stroke-width="1.4" />
<text x="280.9" y="810.6" font-size="10.3" font-weight="bold" textLength="15.2" lengthAdjust="spacingAndGlyphs" text-anchor="end" stroke="#000" stroke-width="0.25">4000</text>
<line x1="281.2" y1="768.46" x2="284.2" y2="768.46" stroke="#000" stroke-width="1.4" />
<text x="280.9" y="772.2" font-size="10.3" font-weight="bold" textLength="15.2" lengthAdjust="spacingAndGlyphs" text-anchor="end" stroke="#000" stroke-width="0.25">6000</text>
<line x1="281.2" y1="729.98" x2="284.2" y2="729.98" stroke="#000" stroke-width="1.4" />
<text x="280.9" y="733.7" font-size="10.3" font-weight="bold" textLength="15.2" lengthAdjust="spacingAndGlyphs" text-anchor="end" stroke="#000" stroke-width="0.25">8000</text>
<line x1="281.2" y1="691.5" x2="284.2" y2="691.5" stroke="#000" stroke-width="1.4" />
<text x="280.9" y="695.2" font-size="10.3" font-weight="bold" textLength="19.0" lengthAdjust="spacingAndGlyphs" text-anchor="end" stroke="#000" stroke-width="0.25">10000</text>
<line x1="306.5" y1="883.9" x2="306.5" y2="892" stroke="#000" stroke-width="1.4" />
<line x1="339" y1="883.9" x2="339" y2="892" stroke="#000" stroke-width="1.4" />
<text x="314.3" y="692.4" font-size="14.3" font-weight="bold" textLength="16.9" lengthAdjust="spacingAndGlyphs" stroke="#000" stroke-width="0.25">TNF</text>
<text x="338.4" y="711.2" font-size="9.5" font-weight="bold" textLength="15.5" lengthAdjust="spacingAndGlyphs" text-anchor="middle" stroke="#000" stroke-width="0.15">****</text>
<text x="382.2" y="819.8" font-size="14.5" font-weight="bold" textLength="51.3" lengthAdjust="spacingAndGlyphs" transform="rotate(-90 382.2 819.8)" stroke="#000" stroke-width="0.4">pg/ml</text>
<path d="M413.00 884.6 V747.10 H439.70 V884.6" fill="#fff" stroke="#9c9c9c" stroke-width="3.0" stroke-linejoin="round"/>
<line x1="413.0" y1="747.3000000000001" x2="439.7" y2="747.3000000000001" stroke="#9c9c9c" stroke-width="3.2" />
<line x1="467.5" y1="719.1" x2="467.5" y2="723.1" stroke="#0b579e" stroke-width="1.3" />
<line x1="460.5" y1="719.1" x2="474.7" y2="719.1" stroke="#0b579e" stroke-width="1.4" />
<path d="M454.25 884.6 V724.75 H480.75 V884.6" fill="#fff" stroke="#0b579e" stroke-width="3.3" stroke-linejoin="round"/>
<line x1="454.25" y1="724.95" x2="480.75" y2="724.95" stroke="#0b579e" stroke-width="3.5" />
<line x1="398.8" y1="702.5" x2="398.8" y2="885.5" stroke="#000" stroke-width="1.8" />
<line x1="397.90000000000003" y1="884.6" x2="494.8" y2="884.6" stroke="#000" stroke-width="1.8" />
<line x1="394.40000000000003" y1="884.6" x2="398.8" y2="884.6" stroke="#000" stroke-width="1.4" />
<text x="394.1" y="888.3" font-size="10.4" font-weight="bold" textLength="4.1" lengthAdjust="spacingAndGlyphs" text-anchor="end" stroke="#000" stroke-width="0.25">0</text>
<line x1="394.40000000000003" y1="824.1333333333333" x2="398.8" y2="824.1333333333333" stroke="#000" stroke-width="1.4" />
<text x="394.1" y="827.9" font-size="10.4" font-weight="bold" textLength="8.2" lengthAdjust="spacingAndGlyphs" text-anchor="end" stroke="#000" stroke-width="0.25">50</text>
<line x1="394.40000000000003" y1="763.6666666666667" x2="398.8" y2="763.6666666666667" stroke="#000" stroke-width="1.4" />
<text x="394.1" y="767.4" font-size="10.4" font-weight="bold" textLength="12.3" lengthAdjust="spacingAndGlyphs" text-anchor="end" stroke="#000" stroke-width="0.25">100</text>
<line x1="394.40000000000003" y1="703.2" x2="398.8" y2="703.2" stroke="#000" stroke-width="1.4" />
<text x="394.1" y="706.9" font-size="10.4" font-weight="bold" textLength="12.3" lengthAdjust="spacingAndGlyphs" text-anchor="end" stroke="#000" stroke-width="0.25">150</text>
<line x1="426" y1="884.6" x2="426" y2="892" stroke="#000" stroke-width="1.4" />
<line x1="467.7" y1="884.6" x2="467.7" y2="892" stroke="#000" stroke-width="1.4" />
<text x="439.3" y="692" font-size="12.6" font-weight="bold" textLength="16.6" lengthAdjust="spacingAndGlyphs" stroke="#000" stroke-width="0.25">IL-2</text>
<text x="467.5" y="709.8" font-size="9.5" font-weight="bold" textLength="8.8" lengthAdjust="spacingAndGlyphs" text-anchor="middle" stroke="#000" stroke-width="0.15">**</text>
<text x="514.2" y="816.1" font-size="13.2" font-weight="bold" textLength="52.5" lengthAdjust="spacingAndGlyphs" transform="rotate(-90 514.2 816.1)" stroke="#000" stroke-width="0.4">pg/ml</text>
<line x1="558.7" y1="807.6" x2="558.7" y2="852" stroke="#9c9c9c" stroke-width="1.3" />
<line x1="553.3" y1="807.6" x2="563.5" y2="807.6" stroke="#9c9c9c" stroke-width="1.4" />
<path d="M549.40 884.6 V853.40 H568.00 V884.6" fill="#fff" stroke="#9c9c9c" stroke-width="2.8" stroke-linejoin="round"/>
<line x1="549.4" y1="853.6" x2="568.0" y2="853.6" stroke="#9c9c9c" stroke-width="3.0" />
<path d="M577.55 884.6 V733.65 H596.65 V884.6" fill="#fff" stroke="#0b579e" stroke-width="2.7" stroke-linejoin="round"/>
<line x1="577.5500000000001" y1="733.85" x2="596.65" y2="733.85" stroke="#0b579e" stroke-width="2.9000000000000004" />
<line x1="539.2" y1="694.4" x2="539.2" y2="885.5" stroke="#000" stroke-width="1.8" />
<line x1="538.3000000000001" y1="884.6" x2="605.8" y2="884.6" stroke="#000" stroke-width="1.8" />
<line x1="535.8000000000001" y1="884.6" x2="539.2" y2="884.6" stroke="#000" stroke-width="1.4" />
<text x="535.5" y="888.3" font-size="10.2" font-weight="bold" textLength="3.6" lengthAdjust="spacingAndGlyphs" text-anchor="end" stroke="#000" stroke-width="0.25">0</text>
<line x1="535.8000000000001" y1="846.7" x2="539.2" y2="846.7" stroke="#000" stroke-width="1.4" />
<text x="535.5" y="850.4" font-size="10.2" font-weight="bold" textLength="14.2" lengthAdjust="spacingAndGlyphs" text-anchor="end" stroke="#000" stroke-width="0.25">5000</text>
<line x1="535.8000000000001" y1="808.8000000000001" x2="539.2" y2="808.8000000000001" stroke="#000" stroke-width="1.4" />
<text x="535.5" y="812.5" font-size="10.2" font-weight="bold" textLength="17.8" lengthAdjust="spacingAndGlyphs" text-anchor="end" stroke="#000" stroke-width="0.25">10000</text>
<line x1="535.8000000000001" y1="770.9" x2="539.2" y2="770.9" stroke="#000" stroke-width="1.4" />
<text x="535.5" y="774.6" font-size="10.2" font-weight="bold" textLength="17.8" lengthAdjust="spacingAndGlyphs" text-anchor="end" stroke="#000" stroke-width="0.25">15000</text>
<line x1="535.8000000000001" y1="733.0" x2="539.2" y2="733.0" stroke="#000" stroke-width="1.4" />
<text x="535.5" y="736.7" font-size="10.2" font-weight="bold" textLength="17.8" lengthAdjust="spacingAndGlyphs" text-anchor="end" stroke="#000" stroke-width="0.25">20000</text>
<line x1="535.8000000000001" y1="695.1" x2="539.2" y2="695.1" stroke="#000" stroke-width="1.4" />
<text x="535.5" y="698.8" font-size="10.2" font-weight="bold" textLength="17.8" lengthAdjust="spacingAndGlyphs" text-anchor="end" stroke="#000" stroke-width="0.25">25000</text>
<line x1="558.6" y1="884.6" x2="558.6" y2="892" stroke="#000" stroke-width="1.4" />
<line x1="587.3" y1="884.6" x2="587.3" y2="892" stroke="#000" stroke-width="1.4" />
<text x="562.8" y="694.6" font-size="14.5" font-weight="bold" textLength="19.2" lengthAdjust="spacingAndGlyphs" stroke="#000" stroke-width="0.25">IL-4</text>
<text x="587.3" y="726" font-size="9.5" font-weight="bold" textLength="3.8" lengthAdjust="spacingAndGlyphs" text-anchor="middle" stroke="#000" stroke-width="0.15">*</text>
<rect x="604" y="755.4" width="8.4" height="18.5" fill="#fff" stroke="#9c9c9c" stroke-width="3" />
<rect x="603.6" y="788.8" width="7.8" height="18.3" fill="#fff" stroke="#0b579e" stroke-width="3" />
<text x="618.3" y="771.8" font-size="19.5" textLength="52" lengthAdjust="spacingAndGlyphs" stroke="#000" stroke-width="0.35">Untreated</text>
<text x="617.7" y="805.3" font-size="19.5" textLength="79.5" lengthAdjust="spacingAndGlyphs" stroke="#000" stroke-width="0.35">AAV-CD4 CAR</text>
</svg>
</body></html>
